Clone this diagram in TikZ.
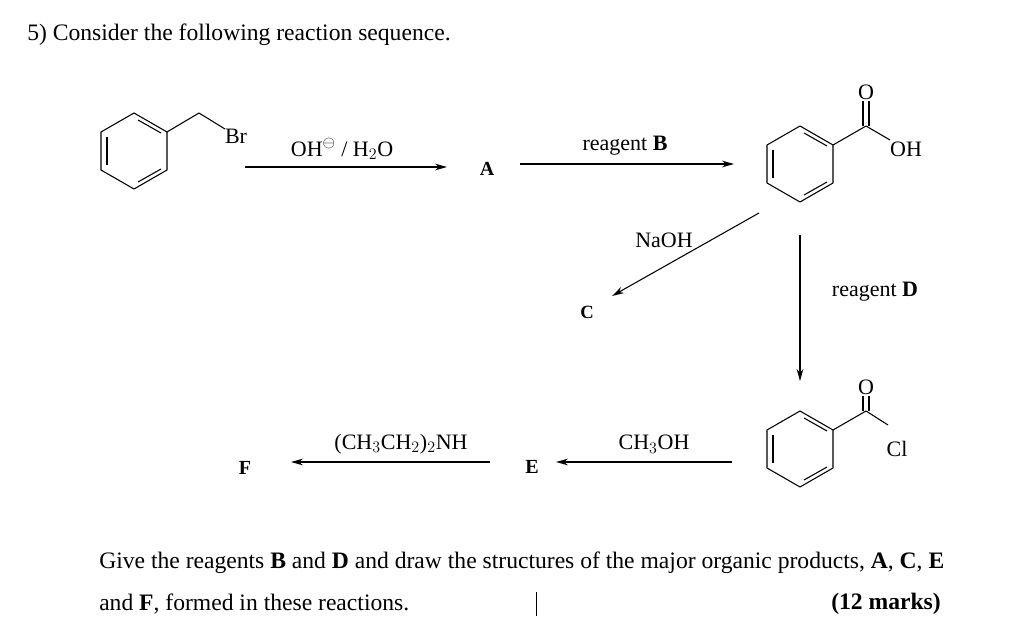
\documentclass[tikz,border=0pt]{standalone}
\usepackage{fontspec}
\setmainfont{Liberation Serif}
\usetikzlibrary{arrows.meta}
\begin{document}
\begin{tikzpicture}[x=0.75pt,y=-0.75pt,
  bond/.style={line width=0.8pt,line join=round},
  rxn/.style={line width=0.8pt,-{Stealth[length=9pt,width=5pt]}},
  lbl/.style={font=\fontsize{16.5}{19}\selectfont,inner sep=0pt},
  big/.style={font=\fontsize{17.7}{21}\selectfont,inner sep=0pt}]
\useasboundingbox (0,0) rectangle (1024,638);
\newcommand{\ring}[2]{%
  \draw[bond] (#1+0,#2-38) -- (#1+33,#2-19) -- (#1+33,#2+19) -- (#1+0,#2+38) -- (#1-33,#2+19) -- (#1-33,#2-19) -- cycle;
  \draw[bond] (#1-27,#2-14) -- (#1-27,#2+14);
  \draw[bond] (#1+4,#2-31) -- (#1+27,#2-18);
  \draw[bond] (#1+4,#2+31) -- (#1+27,#2+18);}
\node[big,anchor=west] (title) at (27,35) {5) Consider the following reaction sequence.};
% benzyl bromide
\ring{134}{151}
\draw[bond] (167,132) -- (199,113) -- (225,129);
\node[lbl] (br) at (236,136) {Br};
% benzoic acid
\ring{800}{164}
\draw[bond] (833,145) -- (866,126) -- (890,140);
\draw[bond] (863,126) -- (863,101); \draw[bond] (869,126) -- (869,101);
\node[lbl] (o1) at (866,92) {O};
\node[lbl] (oh) at (906,149) {OH};
% benzoyl chloride
\ring{800}{449}
\draw[bond] (833,430) -- (866,411) -- (888,425);
\draw[bond] (863,411) -- (863,396); \draw[bond] (869,411) -- (869,396);
\node[lbl] (o2) at (866,387) {O};
\node[lbl] (cl) at (897,449) {Cl};
% letters
\node[lbl,font=\bfseries\fontsize{15}{17}\selectfont] (A) at (487,169) {A};
\node[lbl,font=\bfseries\fontsize{14}{17}\selectfont] (C) at (587,312) {C};
\node[lbl,font=\bfseries\fontsize{15}{17}\selectfont] (E) at (532,467) {E};
\node[lbl,font=\bfseries\fontsize{15}{17}\selectfont] (F) at (245,468) {F};
% arrows
\coordinate (a1s) at (245,167); \coordinate (a1e) at (447,167);
\draw[rxn] (a1s) -- (a1e);
\node[lbl] (r1) at (342,149) {OH$^{\ominus}$ / H$_2$O};
\coordinate (a2s) at (520,164); \coordinate (a2e) at (734,164);
\draw[rxn] (a2s) -- (a2e);
\node[lbl] (r2) at (625,146) {reagent \textbf{B}};
\coordinate (a3s) at (759,213); \coordinate (a3e) at (612,296);
\draw[rxn] (a3s) -- (a3e);
\node[lbl] (r3) at (664,240) {NaOH};
\coordinate (a4s) at (800,235); \coordinate (a4e) at (800,381);
\draw[rxn] (a4s) -- (a4e);
\node[lbl] (r4) at (875,292) {reagent \textbf{D}};
\coordinate (a5s) at (732,462); \coordinate (a5e) at (556,462);
\draw[rxn] (a5s) -- (a5e);
\node[lbl] (r5) at (654,444) {CH$_3$OH};
\coordinate (a6s) at (490,462); \coordinate (a6e) at (291,462);
\draw[rxn] (a6s) -- (a6e);
\node[lbl] (r6) at (401,444) {(CH$_3$CH$_2$)$_2$NH};
% question text
\node[big,anchor=west] (q1) at (99,563) {Give the reagents \textbf{B} and \textbf{D} and draw the structures of the major organic products, \textbf{A}, \textbf{C}, \textbf{E}};
\node[big,anchor=west] (q2) at (99,604) {and \textbf{F}, formed in these reactions.};
\node[big,anchor=east] (q3) at (941,604) {\textbf{(12 marks)}};
\coordinate (cur1) at (536,592); \coordinate (cur2) at (536,616);
\draw[line width=0.6pt] (cur1) -- (cur2);
\end{tikzpicture}
\end{document}
